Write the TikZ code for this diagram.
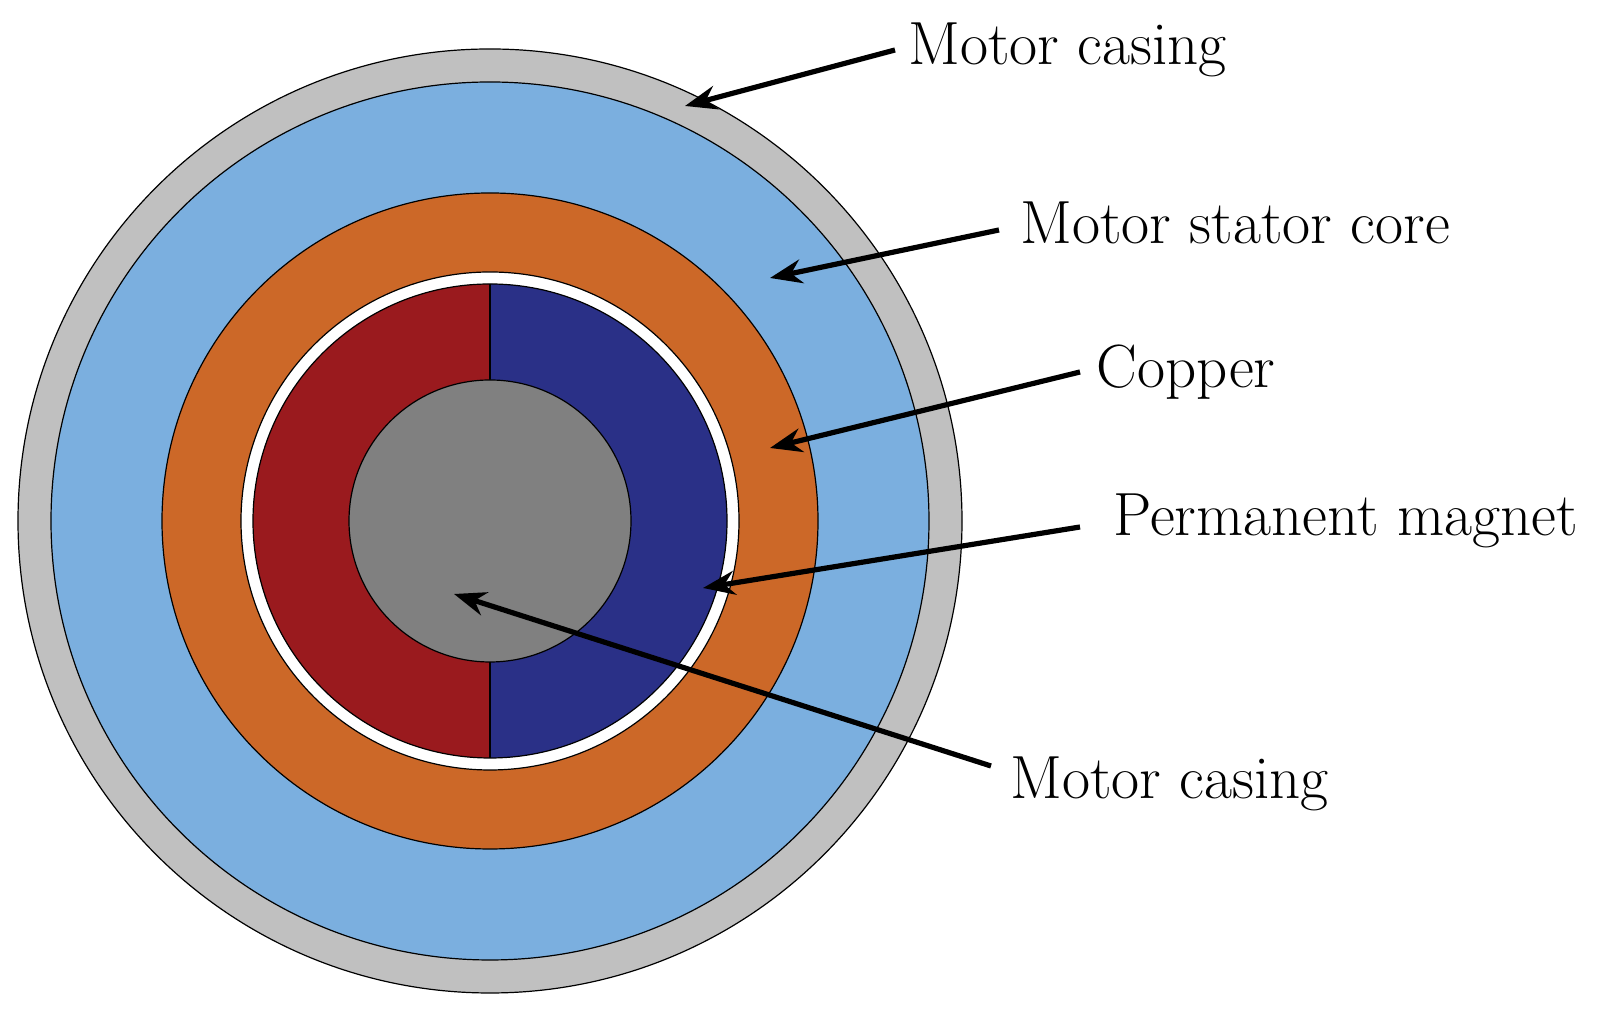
\documentclass[tikz,border=0pt]{standalone}
\usetikzlibrary{arrows.meta,calc}
\definecolor{casing}{HTML}{C0C0C0}
\definecolor{stator}{HTML}{7BAFDF}
\definecolor{copper}{HTML}{CC6828}
\definecolor{mred}{HTML}{9A1A1E}
\definecolor{mblue}{HTML}{2A3087}
\definecolor{shaft}{HTML}{808080}
\begin{document}
\begin{tikzpicture}[x=0.5pt,y=0.5pt,
  ring/.style={draw=black,line width=0.6pt},
  lbl/.style={anchor=west,inner sep=0pt,font=\fontsize{30.5}{36}\selectfont},
  pointer/.style={line width=2.6pt,-{Stealth[length=16pt,width=12pt]}}]
\useasboundingbox (0,0) rectangle (1619,1021);
\coordinate (c) at (490,500);
\fill[casing,ring] (c) circle (472);
\fill[stator,ring] (c) circle (439);
\fill[copper,ring] (c) circle (328);
\fill[white,ring] (c) circle (249);
\fill[mred] (c) ++(0,237) arc (90:270:237) -- cycle;
\fill[mblue] (c) ++(0,-237) arc (-90:90:237) -- cycle;
\draw[ring] (c) circle (237);
\draw[ring] ($(c)+(0,237)$) -- ($(c)-(0,237)$);
\fill[shaft,ring] (c) circle (141);
% labels
\node[lbl] (l1) at (908,971) {Motor casing};
\node[lbl] (l2) at (1020,798) {Motor stator core};
\node[lbl] (l3) at (1096,649) {Copper};
\node[lbl] (l4) at (1113,500) {Permanent magnet};
\node[lbl] (l5) at (1010,237) {Motor casing};
% arrow ends
\coordinate (s1) at (895,971); \coordinate (t1) at (685,915);
\coordinate (s2) at (999,791); \coordinate (t2) at (770,743);
\coordinate (s3) at (1080,649); \coordinate (t3) at (770,573);
\coordinate (s4) at (1080,494); \coordinate (t4) at (703,433);
\coordinate (s5) at (991,255); \coordinate (t5) at (454,427);
\foreach \i in {1,...,5} \draw[pointer] (s\i) -- (t\i);
\end{tikzpicture}
\end{document}
